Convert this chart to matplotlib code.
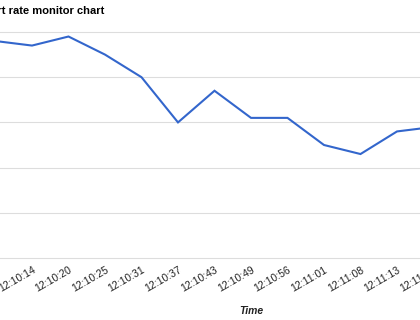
import matplotlib.pyplot as plt

# heart rate samples (bpm) per timestamp; first and last sit just past the crop
times = ["12:10:08", "12:10:14", "12:10:20", "12:10:25", "12:10:31", "12:10:37",
         "12:10:43", "12:10:49", "12:10:56", "12:11:01", "12:11:08", "12:11:13",
         "12:11:19", "12:11:25"]
bpm = [98, 97, 99, 95, 90, 80, 87, 81, 81, 75, 73, 78, 79]
y_ticks = [50, 60, 70, 80, 90, 100]

W, H = 420, 320
plt.rcParams["font.family"] = ["Liberation Sans", "DejaVu Sans"]

fig = plt.figure(figsize=(W / 100, H / 100), dpi=100)

# chart area is wider than the picture, so both sides get cut off
left_px, width_px = -22.75, 547.5
top_px, bottom_px = 32, 258
ax = fig.add_axes([left_px / W, 1 - bottom_px / H, width_px / W, (bottom_px - top_px) / H])

ax.plot(range(len(bpm)), bpm, color="#3366cc", linewidth=1.5, solid_joinstyle="miter")

ax.set_xlim(-0.5, 14.5)
ax.set_ylim(y_ticks[0], y_ticks[-1])
ax.set_yticks(y_ticks)
ax.grid(axis="y", color="#dddddd", linewidth=0.8)
ax.set_axisbelow(True)
for gl in ax.get_ygridlines():
    gl.set_clip_on(False)
for s in ax.spines.values():
    s.set_visible(False)

ax.set_xticks(range(len(times)))
ax.set_xticklabels(times, rotation=30, ha="right", rotation_mode="anchor",
                   fontsize=7.5, color="#222222")
ax.tick_params(axis="x", length=0, pad=5)
ax.tick_params(axis="y", length=0, labelleft=False)

fig.text(left_px / W, 1 - 11 / H, "Heart rate monitor chart", fontsize=8,
         fontweight="bold", color="#000000", ha="left", va="center")
fig.text((left_px + width_px / 2) / W, 1 - 311 / H, "Time", fontsize=7.5,
         fontweight="bold", fontstyle="italic", color="#222222", ha="center", va="center")

fig.savefig("out.png", dpi=100)
